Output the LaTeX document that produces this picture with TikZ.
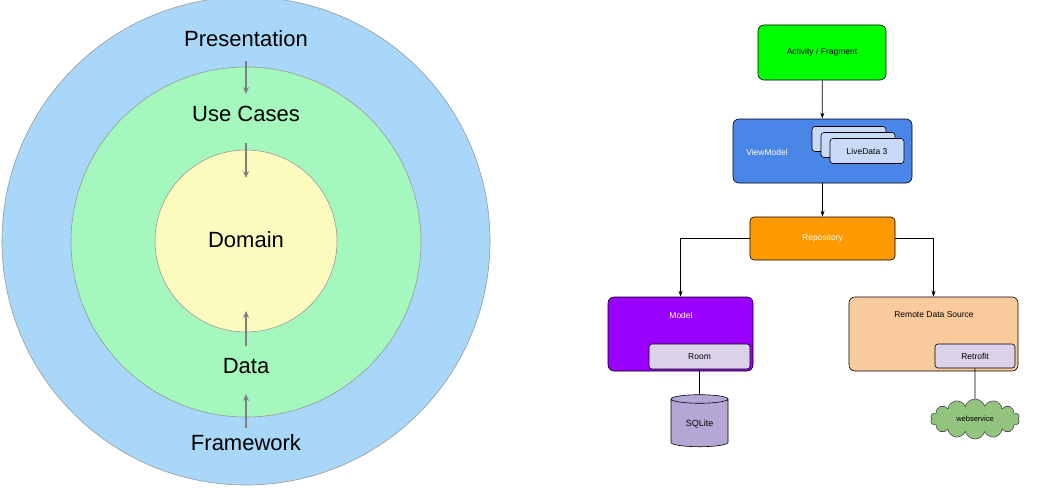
\documentclass[tikz,border=0pt]{standalone}
\usepackage{fontspec}
\setmainfont{Liberation Sans}
\usetikzlibrary{shapes.geometric,shapes.symbols,arrows.meta}
\definecolor{blueC}{HTML}{A8D7FA}
\definecolor{greenC}{HTML}{A4F8BE}
\definecolor{yellowC}{HTML}{FAFBBD}
\definecolor{actG}{HTML}{00FF00}
\definecolor{vmB}{HTML}{4A86E8}
\definecolor{ldB}{HTML}{C9DAF8}
\definecolor{repO}{HTML}{FF9900}
\definecolor{modP}{HTML}{9900FF}
\definecolor{subL}{HTML}{D9D2E9}
\definecolor{sqlP}{HTML}{B4A7D6}
\definecolor{remO}{HTML}{F9CB9C}
\definecolor{webG}{HTML}{93C47D}
\tikzset{
 ring/.style={circle,draw=gray!80,line width=0.6pt,inner sep=0},
 lbl/.style={font=\fontsize{22}{22}\selectfont},
 garr/.style={draw=gray,line width=1.4pt,-{Stealth[length=7pt,width=6pt]}},
 box/.style={draw=black,rounded corners=6pt,line width=0.6pt,font=\fontsize{8.5}{9}\selectfont},
 sub/.style={draw=black,rounded corners=3pt,line width=0.6pt,fill=subL,font=\fontsize{8.5}{9}\selectfont},
 conn/.style={draw=black,line width=0.8pt,-{Stealth[length=6pt,width=4pt]}},
 plain/.style={draw=black,line width=0.8pt}
}
\begin{document}
\begin{tikzpicture}[x=1pt,y=-1pt]
\useasboundingbox (0,0) rectangle (1056,503);
% circles
\node[ring,fill=blueC,minimum size=488pt] (outer) at (246,241) {};
\node[ring,fill=greenC,minimum size=350pt] (mid) at (246,242) {};
\node[ring,fill=yellowC,minimum size=182pt] (inner) at (246,241) {};
\node[lbl] (pres) at (246,39) {Presentation};
\node[lbl] (uc) at (246,114) {Use Cases};
\node[lbl] (dom) at (246,240) {Domain};
\node[lbl] (data) at (246,366) {Data};
\node[lbl] (fw) at (246,443) {Framework};
\coordinate (p1) at (246,61); \coordinate (p2) at (246,94);
\coordinate (u1) at (246,143); \coordinate (u2) at (246,178);
\coordinate (d1) at (246,346); \coordinate (d2) at (246,311);
\coordinate (f1) at (246,428); \coordinate (f2) at (246,394);
\draw[garr] (p1) -- (p2);
\draw[garr] (u1) -- (u2);
\draw[garr] (d1) -- (d2);
\draw[garr] (f1) -- (f2);
% right diagram
\node[box,fill=actG,minimum width=128pt,minimum height=55pt] (act) at (822,52.5) {Activity / Fragment};
\node[box,fill=vmB,minimum width=179pt,minimum height=64pt] (vm) at (822.5,151) {};
\node[text=white,font=\fontsize{8.5}{9}\selectfont] (vmt) at (767,152) {ViewModel};
\node[sub,fill=ldB,minimum width=74pt,minimum height=25pt] (ld1) at (849,139) {};
\node[sub,fill=ldB,minimum width=74pt,minimum height=25pt] (ld2) at (858,145) {};
\node[sub,fill=ldB,minimum width=74pt,minimum height=25pt] (ld3) at (867,151) {LiveData 3};
\node[box,fill=repO,text=white,rounded corners=4pt,minimum width=145pt,minimum height=43pt] (rep) at (822.5,238.5) {Repository};
\node[box,fill=modP,minimum width=145pt,minimum height=74pt] (mod) at (680.5,334) {};
\node[text=white,font=\fontsize{8.5}{9}\selectfont] (modt) at (681,315) {Model};
\node[sub,minimum width=101pt,minimum height=25pt] (room) at (699.5,356.5) {Room};
\node[box,fill=remO,minimum width=169pt,minimum height=74pt] (rem) at (933.5,334) {};
\node[font=\fontsize{8.5}{9}\selectfont] (remt) at (934,315) {Remote Data Source};
\node[sub,minimum width=80pt,minimum height=24pt] (retro) at (975,356) {Retrofit};
\node[cylinder,shape border rotate=90,draw=black,line width=0.6pt,fill=sqlP,aspect=0.25,minimum width=57pt,minimum height=52pt,font=\fontsize{9}{9}\selectfont] (sql) at (699.5,424) {SQLite};
\node[cloud,cloud puffs=14,aspect=2.2,draw=black!70,line width=0.6pt,fill=webG,minimum width=89pt,minimum height=40pt,inner sep=0pt,font=\fontsize{7.5}{8}\selectfont] (web) at (975,419) {webservice};
\draw[conn] (act) -- (vm);
\draw[conn] (vm) -- (rep);
\draw[conn] (rep.west) -| (mod.north);
\draw[conn] (rep.east) -| (rem.north);
\draw[plain] (room.south) -- (sql.top);
\draw[plain] (retro.south) -- (web.north);
\end{tikzpicture}
\end{document}
